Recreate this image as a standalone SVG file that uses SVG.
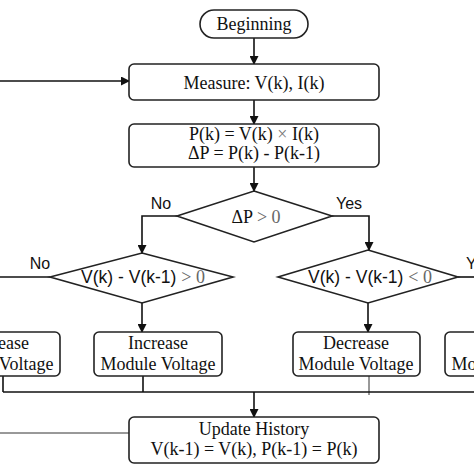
<svg xmlns="http://www.w3.org/2000/svg" width="474" height="474" viewBox="0 0 474 474">
<style>
.box{fill:#fff;stroke:#222;stroke-width:1.6}
.ln{fill:none;stroke:#111;stroke-width:1.6}
.thin{fill:none;stroke:#333;stroke-width:1}
.t{font-family:"Liberation Serif","Times New Roman",serif;font-size:18px;fill:#111;text-anchor:middle}
.s{font-family:"Liberation Sans",Arial,sans-serif;font-size:16px;fill:#111;text-anchor:middle}
.d{font-family:"Liberation Sans",Arial,sans-serif;font-size:17.5px;fill:#111;text-anchor:middle}
.g{font-family:"Liberation Serif","Times New Roman",serif;fill:#666}
</style>
<defs>
<marker id="ah" markerWidth="9" markerHeight="9" refX="8" refY="4.5" orient="auto" markerUnits="userSpaceOnUse">
<path d="M0,0 L9,4.5 L0,9 Z" fill="#111"/>
</marker>
</defs>
<rect width="474" height="474" fill="#fff"/>
<g id="connectors">
<line class="ln" x1="254" y1="38" x2="254" y2="64" marker-end="url(#ah)"/>
<line class="ln" x1="0" y1="81" x2="129" y2="81" marker-end="url(#ah)"/>
<line class="ln" x1="254" y1="100" x2="254" y2="124" marker-end="url(#ah)"/>
<line class="ln" x1="254" y1="167" x2="254" y2="191" marker-end="url(#ah)"/>
<polyline class="ln" points="177,216 142,216 142,253" marker-end="url(#ah)"/>
<polyline class="ln" points="332,216 369,216 369,250" marker-end="url(#ah)"/>
<line class="ln" x1="50" y1="277" x2="0" y2="277"/>
<line class="ln" x1="458" y1="277" x2="474" y2="277"/>
<line class="ln" x1="142" y1="303" x2="142" y2="332" marker-end="url(#ah)"/>
<line class="ln" x1="368" y1="303" x2="368" y2="332" marker-end="url(#ah)"/>
<line class="ln" x1="3" y1="376" x2="3" y2="392"/>
<line class="ln" x1="143" y1="376" x2="143" y2="392"/>
<line class="thin" x1="369" y1="376" x2="369" y2="395"/>
<line class="ln" x1="3" y1="392" x2="474" y2="392"/>
<line class="ln" x1="254" y1="392" x2="254" y2="417" marker-end="url(#ah)"/>
<line class="thin" x1="0" y1="433" x2="129" y2="433"/>
</g>
<g id="label-no1"><text class="s" x="161" y="209">No</text></g>
<g id="label-yes1"><text class="s" x="349" y="209">Yes</text></g>
<g id="label-no2"><text class="s" x="40" y="269">No</text></g>
<g id="label-yes2"><text class="s" x="466" y="269" style="text-anchor:start">Yes</text></g>
<g id="beginning">
<rect class="box" x="200" y="10" width="108" height="28" rx="14"/>
<text class="t" x="254" y="30">Beginning</text>
</g>
<g id="measure">
<rect class="box" x="129" y="64" width="250" height="36" rx="5"/>
<text class="t" x="254" y="89">Measure: V(k), I(k)</text>
</g>
<g id="compute">
<rect class="box" x="129" y="124" width="250" height="43" rx="5"/>
<text class="t" x="254" y="140">P(k) = V(k) <tspan fill="#777">×</tspan> I(k)</text>
<text class="t" x="254" y="159">ΔP = P(k) - P(k-1)</text>
</g>
<g id="dp">
<polygon class="box" points="254,191 332,216 254,242 177,216"/>
<text class="t" x="256" y="223">ΔP <tspan class="g">&gt; 0</tspan></text>
</g>
<g id="dv-pos">
<polygon class="box" points="142,253 233,277 142,303 50,277"/>
<text class="d" x="143" y="283">V(k) - V(k-1) <tspan class="g" font-size="18">&gt; 0</tspan></text>
</g>
<g id="dv-neg">
<polygon class="box" points="368,250 458,277 368,303 278,277"/>
<text class="d" x="370" y="283">V(k) - V(k-1) <tspan class="g" font-size="18">&lt; 0</tspan></text>
</g>
<g id="dec-left">
<rect class="box" x="-68" y="332" width="128" height="44" rx="5"/>
<text class="t" x="-4" y="349">Decrease</text>
<text class="t" x="-4" y="370">Module Voltage</text>
</g>
<g id="inc-mid">
<rect class="box" x="94" y="332" width="128" height="44" rx="5"/>
<text class="t" x="158" y="349">Increase</text>
<text class="t" x="158" y="370">Module Voltage</text>
</g>
<g id="dec-mid">
<rect class="box" x="293" y="332" width="127" height="44" rx="5"/>
<text class="t" x="356" y="349">Decrease</text>
<text class="t" x="356" y="370">Module Voltage</text>
</g>
<g id="inc-right">
<rect class="box" x="445" y="332" width="128" height="44" rx="5"/>
<text class="t" x="509" y="349">Increase</text>
<text class="t" x="509" y="370">Module Voltage</text>
</g>
<g id="update">
<rect class="box" x="129" y="417" width="250" height="46" rx="5"/>
<text class="t" x="254" y="435">Update History</text>
<text class="t" x="254" y="455">V(k-1) = V(k), P(k-1) = P(k)</text>
</g>
</svg>
